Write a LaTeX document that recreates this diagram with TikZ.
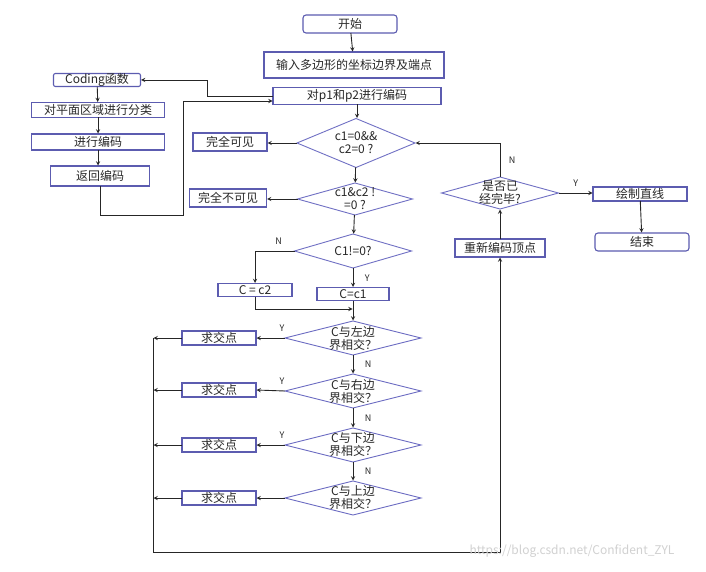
\documentclass[tikz,border=0pt]{standalone}
\usepackage{fontspec}
\setmainfont{Noto Sans CJK SC}
\usepackage{xcolor}
\usetikzlibrary{shapes.geometric}
\definecolor{boxblue}{RGB}{92,92,176}
\definecolor{diamondblue}{RGB}{112,112,196}
\definecolor{txt}{RGB}{40,40,40}

\begin{document}
\begin{tikzpicture}[x=1pt,y=-1pt,>=stealth,shorten >=0.5pt,line width=0.9pt,
    every node/.style={font=\fontsize{12}{13}\selectfont,text=txt},
    proc/.style={draw=boxblue,line width=1.1pt,inner sep=0pt,outer sep=0pt,minimum height=16pt},
    term/.style={proc,rounded corners=3pt},
    decision/.style={diamond,draw=diamondblue,line width=0.9pt,inner sep=0pt,outer sep=0pt},
    yn/.style={font=\fontsize{9}{10}\selectfont},
    flow/.style={->,black!85}]

    \fill[white] (0,0) rectangle (706,572);

    % main column
    \node[term, minimum width=94pt, minimum height=18pt]  (start)  at (350,24) {开始};
    \node[proc, minimum width=180pt, minimum height=26pt] (input)  at (354,65) {输入多边形的坐标边界及端点};
    \node[proc, minimum width=168pt, minimum height=17pt] (encode) at (357,96) {对p1和p2进行编码};

    \node[decision, minimum width=118pt, minimum height=49pt,
          label={[align=center]center:{c1=0\&\&\\c2=0 ?}}] (d1) at (356,143) {};
    \node[proc, minimum width=74pt, minimum height=18pt] (visible) at (230,142) {完全可见};
    \node[decision, minimum width=115pt, minimum height=32pt,
          label={[align=center]center:{c1\&c2 !\\=0 ?}}] (d2) at (355,199) {};
    \node[proc, minimum width=77pt, minimum height=18pt] (invisible) at (228,198) {完全不可见};
    \node[decision, minimum width=117pt, minimum height=34pt,
          label={center:{C1!=0?}}] (d3) at (353,251) {};
    \node[proc, minimum width=74pt, minimum height=13pt] (c2box) at (255,290) {C = c2};
    \node[proc, minimum width=72pt, minimum height=13pt] (c1box) at (353,294) {C=c1};

    \node[decision, minimum width=136pt, minimum height=34pt,
          label={[align=center]center:{C与左边\\界相交？}}] (d4) at (353,338) {};
    \node[decision, minimum width=136pt, minimum height=34pt,
          label={[align=center]center:{C与右边\\界相交？}}] (d5) at (353,391) {};
    \node[decision, minimum width=136pt, minimum height=34pt,
          label={[align=center]center:{C与下边\\界相交？}}] (d6) at (353,445) {};
    \node[decision, minimum width=136pt, minimum height=34pt,
          label={[align=center]center:{C与上边\\界相交？}}] (d7) at (353,498) {};
    \foreach \i/\y in {4/338,5/390,6/445,7/498}
        \node[proc, minimum width=74pt, minimum height=14pt] (isect\i) at (219,\y) {求交点};

    % coding function
    \node[term, rounded corners=2pt, minimum width=87pt, minimum height=13pt] (coding) at (97,80) {Coding函数};
    \node[proc, minimum width=133pt, minimum height=15pt] (classify) at (98,110) {对平面区域进行分类};
    \node[proc, minimum width=133pt, minimum height=16pt] (enc2) at (98,142) {进行编码};
    \node[proc, minimum width=99pt, minimum height=20pt] (ret) at (100,176) {返回编码};

    % right part
    \node[proc, minimum width=90pt, minimum height=18pt] (redo) at (500,248) {重新编码顶点};
    \node[decision, minimum width=117pt, minimum height=32pt,
          label={[align=center]center:{是否已\\经完毕?}}] (dfin) at (500,193) {};
    \node[proc, minimum width=94pt, minimum height=14pt] (drawline) at (640,194) {绘制直线};
    \node[term, minimum width=94pt, minimum height=18pt] (end) at (642,242) {结束};

    \coordinate (back)  at (183,215);
    \coordinate (merge) at (353,309);
    \coordinate (side)  at (153,338);
    \coordinate (floor) at (153,552);

    \draw[flow] (start) -- (input);
    \draw[flow] (encode.west) -- ++(-66,0) |- (coding.east);
    \draw[flow] (coding) -- (classify);
    \draw[flow] (classify) -- (enc2);
    \draw[flow] (enc2.south) -- (enc2.south |- ret.north);
    \draw[flow] (ret.south) |- (back) |- ([yshift=-5pt]encode.west);

    \draw[flow] (encode.south) -- (encode.south |- d1.north);
    \draw[flow] (d1.west) -- (d1.west -| visible.east);
    \draw[flow] (d1) -- (d2);
    \draw[flow] (d2.west) -- (d2.west -| invisible.east);
    \draw[flow] (d2) -- (d3);
    \draw[flow] (d3.west) -| (c2box.north) node[yn,pos=0.2,above=3pt] {N};
    \draw[flow] (d3.south) -- (c1box.north) node[yn,midway,right=8pt] {Y};
    \draw[flow] (c2box.south) |- (merge);
    \draw[flow] (c1box.south) -- (d4.north);

    \foreach \a/\b in {4/5,5/6,6/7}
        \draw[flow] (d\a) -- (d\b) node[yn,midway,right=8pt] {N};
    \foreach \i in {4,5,6}
        \draw[flow] (d\i.west) -- (isect\i.east) node[yn,pos=0.1,above=3pt] {Y};
    \draw[flow] (d7.west) -- (isect7.east);
    \foreach \i in {4,...,7}
        \draw[flow] (isect\i.west) -- (isect\i.west -| side);

    \draw[flow] (side) -- (floor) -| (redo.south);
    \draw[flow] (redo.north) -- (dfin.south);
    \draw[flow] (dfin.north) |- (d1.east) node[yn,pos=0.25,right=5pt] {N};
    \draw[flow] (dfin.east) -- (dfin.east -| drawline.west) node[yn,midway,above=3pt] {Y};
    \draw[flow] (drawline) -- (end);

    \node[text=black!18, font=\fontsize{12}{13}\selectfont] (mark) at (572,551) {https://blog.csdn.net/Confident\_ZYL};
\end{tikzpicture}
\end{document}
